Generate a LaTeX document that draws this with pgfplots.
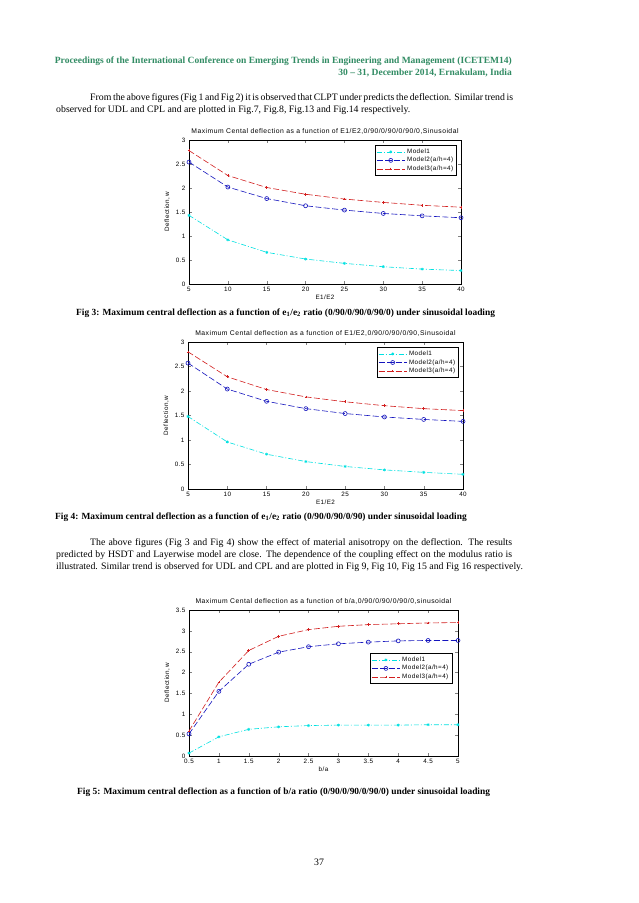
\documentclass[border=0pt]{standalone}
\usepackage{fontspec}
\setmainfont{Liberation Serif}
\newfontfamily\chartfont[LetterSpace=7]{Liberation Sans}
\usepackage{pgfplots}
\pgfplotsset{compat=1.18}
\definecolor{hdr}{RGB}{50,140,100}
\definecolor{mcyan}{RGB}{0,225,225}
\definecolor{mblue}{RGB}{20,20,190}
\definecolor{mred}{RGB}{210,30,30}
\newcommand{\cf}{\chartfont\fontsize{6.3}{7}\selectfont}
\newcommand{\tf}{\chartfont\fontsize{6.8}{7}\selectfont}
\newcommand{\bodyf}{\fontsize{9.8}{12}\selectfont}
\newcommand{\capf}{\bfseries\fontsize{9.4}{12}\selectfont}
\pgfplotsset{mat/.style={scale only axis, tick align=inside, major tick length=3pt,
  axis line style={line width=0.5pt}, /pgf/number format/assume math mode=true,
  tick label style={font=\cf}, title style={font=\tf, yshift=-4pt},
  label style={font=\cf}, xlabel style={yshift=4pt}, ylabel style={yshift=-1pt},
  legend style={font=\cf, draw=black, line width=0.5pt, inner sep=1.5pt, row sep=-1.5pt},
  legend cell align=left,
  legend image code/.code={\draw[mark repeat=2,mark phase=2] plot coordinates {(0pt,0pt)(14pt,0pt)(28pt,0pt)};}},
  m1/.style={mcyan, line width=0.6pt, dash pattern=on 5pt off 2pt on 1pt off 2pt, mark=asterisk, mark size=1.5pt, mark options={solid}},
  m2/.style={mblue, line width=0.6pt, dash pattern=on 6pt off 2.5pt, mark=o, mark size=2pt, mark options={solid}},
  m3/.style={mred, line width=0.6pt, dash pattern=on 6pt off 2.5pt, mark=+, mark size=1.3pt, mark options={solid}}}
\begin{document}
\begin{tikzpicture}[x=1pt,y=1pt]
\fill[white] (0,0) rectangle (638,-903);
\useasboundingbox (0,0) rectangle (638,-903);
% header
\node[anchor=base east, inner sep=0, font=\bfseries\fontsize{9.5}{12}\selectfont, text=hdr] at (512,-63) {Proceedings of the International Conference on Emerging Trends in Engineering and Management (ICETEM14)};
\node[anchor=base east, inner sep=0, font=\bfseries\fontsize{9.5}{12}\selectfont, text=hdr] at (512,-75) {30 -- 31, December 2014, Ernakulam, India};
% paragraph 1
\node[anchor=base west, inner sep=0, font=\bodyf] at (90,-100) {\makebox[422pt][s]{From the above figures (Fig 1 and Fig 2) it is observed that CLPT under predicts the deflection. Similar trend is}};
\node[anchor=base west, inner sep=0, font=\bodyf] at (56,-112) {observed for UDL and CPL and are plotted in Fig.7, Fig.8, Fig.13 and Fig.14 respectively.};
% chart 1
\begin{axis}[mat, at={(189pt,-284pt)}, anchor=south west, width=272pt, height=144pt,
  xmin=5, xmax=40, ymin=0, ymax=3, xtick={5,10,...,40}, ytick={0,0.5,...,3},
  title={Maximum Cental deflection as a function of E1/E2,0/90/0/90/0/90/0,Sinusoidal},
  xlabel={E1/E2}, ylabel={Deflection,w},
  legend style={at={(0.985,0.965)}, anchor=north east}]
\addplot[m1] coordinates {(5,1.43)(10,0.92)(15,0.66)(20,0.52)(25,0.43)(30,0.36)(35,0.31)(40,0.28)};
\addplot[m2] coordinates {(5,2.54)(10,2.02)(15,1.78)(20,1.63)(25,1.54)(30,1.47)(35,1.42)(40,1.38)};
\addplot[m3] coordinates {(5,2.78)(10,2.26)(15,2.01)(20,1.87)(25,1.77)(30,1.70)(35,1.64)(40,1.60)};
\legend{Model1,Model2(a/h=4),Model3(a/h=4)}
\end{axis}
\node[anchor=base west, inner sep=0, font=\capf] at (76,-315) {Fig 3: Maximum central deflection as a function of e\textsubscript{1}/e\textsubscript{2} ratio (0/90/0/90/0/90/0) under sinusoidal loading};
% chart 2
\begin{axis}[mat, at={(188pt,-489pt)}, anchor=south west, width=275pt, height=147pt,
  xmin=5, xmax=40, ymin=0, ymax=3, xtick={5,10,...,40}, ytick={0,0.5,...,3},
  title={Maximum Cental deflection as a function of E1/E2,0/90/0/90/0/90,Sinusoidal},
  xlabel={E1/E2}, ylabel={Deflection,w},
  legend style={at={(0.985,0.965)}, anchor=north east}]
\addplot[m1] coordinates {(5,1.48)(10,0.96)(15,0.71)(20,0.56)(25,0.46)(30,0.39)(35,0.34)(40,0.30)};
\addplot[m2] coordinates {(5,2.57)(10,2.04)(15,1.79)(20,1.64)(25,1.54)(30,1.47)(35,1.42)(40,1.38)};
\addplot[m3] coordinates {(5,2.80)(10,2.29)(15,2.03)(20,1.88)(25,1.78)(30,1.70)(35,1.64)(40,1.60)};
\legend{Model1,Model2(a/h=4),Model3(a/h=4)}
\end{axis}
\node[anchor=base west, inner sep=0, font=\capf] at (55,-519) {Fig 4: Maximum central deflection as a function of e\textsubscript{1}/e\textsubscript{2} ratio (0/90/0/90/0/90) under sinusoidal loading};
% paragraph 2
\node[anchor=base west, inner sep=0, font=\bodyf] at (90,-545) {\makebox[422pt][s]{The above figures (Fig 3 and Fig 4) show the effect of material anisotropy on the deflection. The results}};
\node[anchor=base west, inner sep=0, font=\bodyf] at (56,-557) {\makebox[456pt][s]{predicted by HSDT and Layerwise model are close. The dependence of the coupling effect on the modulus ratio is}};
\node[anchor=base west, inner sep=0, font=\bodyf] at (56,-569) {illustrated. Similar trend is observed for UDL and CPL and are plotted in Fig 9, Fig 10, Fig 15 and Fig 16 respectively.};
% chart 3
\begin{axis}[mat, at={(189pt,-756pt)}, anchor=south west, width=269pt, height=146pt,
  xmin=0.5, xmax=5, ymin=0, ymax=3.5, xtick={0.5,1,...,5}, ytick={0,0.5,...,3.5},
  title={Maximum Cental deflection as a function of b/a,0/90/0/90/0/90/0,sinusoidal},
  xlabel={b/a}, ylabel={Deflection,w},
  legend style={at={(0.978,0.705)}, anchor=north east}]
\addplot[m1] coordinates {(0.5,0.07)(1,0.46)(1.5,0.64)(2,0.70)(2.5,0.73)(3,0.74)(3.5,0.74)(4,0.74)(4.5,0.75)(5,0.75)};
\addplot[m2] coordinates {(0.5,0.53)(1,1.55)(1.5,2.20)(2,2.49)(2.5,2.62)(3,2.69)(3.5,2.73)(4,2.76)(4.5,2.77)(5,2.77)};
\addplot[m3] coordinates {(0.5,0.60)(1,1.77)(1.5,2.53)(2,2.87)(2.5,3.03)(3,3.11)(3.5,3.15)(4,3.17)(4.5,3.19)(5,3.20)};
\legend{Model1,Model2(a/h=4),Model3(a/h=4)}
\end{axis}
\node[anchor=base west, inner sep=0, font=\capf] at (77,-794) {Fig 5: Maximum central deflection as a function of b/a ratio (0/90/0/90/0/90/0) under sinusoidal loading};
\node[anchor=base, inner sep=0, font=\bodyf] at (319,-865) {37};
\end{tikzpicture}
\end{document}
